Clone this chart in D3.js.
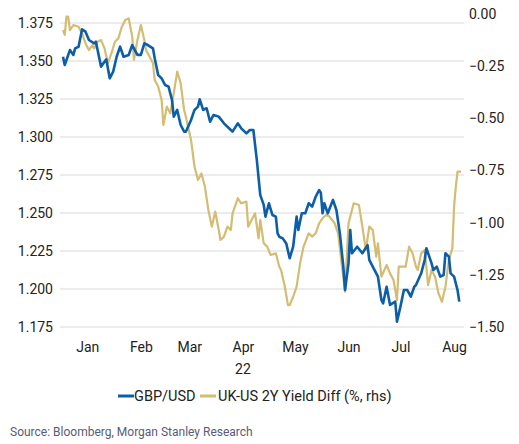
<!DOCTYPE html>
<html><head><meta charset="utf-8">
<script src="https://cdn.jsdelivr.net/npm/d3@7"></script>
<style>body{margin:0;background:#fff}text{font-family:Roboto,"Noto Sans",sans-serif}</style>
</head><body><svg id="c" width="519" height="444"></svg>
<script>
// days since 1 Jan 2022
const gbpDays = [0,1,4,6,7,9,11,13,15,18,19,22,25,27,29,31,33,35,38,40,43,45,47,49,52,53,55,57,59,61,63,64,66,68,70,71,74,76,78,79,81,83,85,87,90,93,97,98,101,103,106,108,110,112,114,116,117,119,121,123,124,125,127,129,131,133,135,136,138,140,142,144,146,148,149,150,151,153,156,158,160,162,163,165,166,167,170,173,176,177,179,182,184,185,187,189,192,193,195,197,199,201,203,204,207,209,210,213,214,216,218,220,221,223,224,226,228,229];
const gbpUsd = [1.3528,1.3474,1.3572,1.3540,1.3583,1.3594,1.3708,1.3693,1.3638,1.3616,1.3627,1.3463,1.3511,1.3386,1.3430,1.3528,1.3594,1.3528,1.3540,1.3605,1.3540,1.3540,1.3616,1.3605,1.3583,1.3518,1.3408,1.3386,1.3342,1.3331,1.3243,1.3134,1.3178,1.3079,1.3035,1.3035,1.3112,1.3178,1.3200,1.3248,1.3178,1.3189,1.3101,1.3145,1.3134,1.3090,1.3046,1.3035,1.3090,1.3057,1.3024,1.3046,1.3046,1.2849,1.2618,1.2553,1.2476,1.2564,1.2487,1.2476,1.2366,1.2344,1.2333,1.2300,1.2202,1.2278,1.2476,1.2388,1.2498,1.2498,1.2564,1.2542,1.2607,1.2651,1.2634,1.2498,1.2564,1.2498,1.2586,1.2520,1.2366,1.2147,1.1993,1.2169,1.2388,1.2235,1.2278,1.2235,1.2289,1.2191,1.2147,1.2081,1.1928,1.1906,1.2015,1.1895,1.1917,1.1785,1.1884,1.1993,1.1993,1.1950,1.2015,1.2026,1.2103,1.2191,1.2268,1.2169,1.2125,1.2147,1.2081,1.2092,1.2235,1.2213,1.2103,1.2081,1.1993,1.1917];
const diffDays = [0,1,2,3,4,6,9,11,13,15,17,18,20,22,24,26,28,30,32,34,36,38,40,41,43,45,47,48,50,52,53,55,57,58,60,62,64,66,68,70,71,74,76,78,80,82,84,86,88,90,91,93,95,97,98,101,103,106,107,109,111,113,114,116,118,120,123,125,126,128,130,131,133,135,137,139,142,144,146,148,150,152,154,157,159,161,163,165,168,171,173,175,177,179,181,182,184,187,189,191,193,194,196,198,200,202,204,205,207,209,211,213,215,217,219,221,223,225,226,227,228,230];
const yieldDiff = [-0.077,-0.100,-0.013,-0.013,-0.077,-0.053,-0.061,-0.093,-0.141,-0.173,-0.149,-0.165,-0.133,-0.125,-0.165,-0.236,-0.188,-0.133,-0.117,-0.061,-0.029,-0.021,-0.109,-0.220,-0.125,-0.053,-0.125,-0.173,-0.204,-0.236,-0.316,-0.348,-0.412,-0.532,-0.444,-0.476,-0.380,-0.276,-0.332,-0.460,-0.492,-0.604,-0.732,-0.796,-0.764,-0.827,-0.939,-1.019,-0.947,-1.035,-1.083,-1.067,-1.019,-1.035,-0.955,-0.883,-0.907,-0.899,-1.019,-0.987,-0.955,-1.075,-0.987,-1.099,-1.115,-1.155,-1.147,-1.211,-1.227,-1.299,-1.395,-1.395,-1.355,-1.307,-1.195,-1.115,-1.051,-1.067,-1.051,-1.003,-0.979,-0.963,-0.971,-1.003,-1.051,-1.195,-1.331,-1.003,-0.907,-0.915,-1.019,-1.131,-1.019,-1.035,-1.163,-1.099,-1.259,-1.203,-1.243,-1.275,-1.371,-1.211,-1.211,-1.211,-1.115,-1.147,-1.211,-1.227,-1.147,-1.131,-1.299,-1.227,-1.259,-1.339,-1.379,-1.307,-1.179,-1.123,-0.923,-0.827,-0.755,-0.755];
const leftTicks = [1.175,1.2,1.225,1.25,1.275,1.3,1.325,1.35,1.375];
const rightTicks = [0,-0.25,-0.5,-0.75,-1,-1.25,-1.5];
const monthLabels = ["Jan","Feb","Mar","Apr","May","Jun","Jul","Aug"];

const svg = d3.select("#c");
const start = new Date(2022,0,1);
const toDate = d => d3.timeDay.offset(start, d);
const x = d3.scaleTime().domain([start, toDate(230)]).range([63, 461]);
const yL = d3.scaleLinear().domain([1.175, 1.375]).range([327, 23]);
const yR = d3.scaleLinear().domain([-1.5, 0]).range([327, 14]);

svg.append("g").selectAll("line").data(leftTicks).join("line")
  .attr("x1", 60).attr("x2", 464).attr("y1", yL).attr("y2", yL)
  .attr("stroke", "#d9d9d9").attr("stroke-width", 1);

const lg = svg.append("g").attr("transform", "translate(56,0)")
  .call(d3.axisLeft(yL).tickValues(leftTicks).tickSize(0).tickFormat(d3.format(".3f")));
const rg = svg.append("g").attr("transform", "translate(466,0)")
  .call(d3.axisRight(yR).tickValues(rightTicks).tickSize(0).tickFormat(d3.format(".2f")));
const xg = svg.append("g").attr("transform", "translate(0,339)")
  .call(d3.axisBottom(x).tickValues(monthLabels.map((m, i) => new Date(2022, i, 15))).tickSize(0)
    .tickFormat((d, i) => monthLabels[i]));
[lg, rg, xg].forEach(g => {
  g.select(".domain").remove();
  g.selectAll("text").attr("font-size", 14).attr("fill", "#222").attr("font-family", "Roboto");
});
svg.append("text").attr("x", x(new Date(2022,3,15))).attr("y", 374).attr("text-anchor", "middle")
  .attr("font-size", 14).attr("fill", "#222").text("22");

const line = (yS) => d3.line().x(d => x(toDate(d[0]))).y(d => yS(d[1])).curve(d3.curveLinear);
svg.append("path").datum(d3.zip(diffDays, yieldDiff)).attr("d", line(yR))
  .attr("fill", "none").attr("stroke", "#d4bc72").attr("stroke-width", 2.2).attr("stroke-linejoin", "round");
svg.append("path").datum(d3.zip(gbpDays, gbpUsd)).attr("d", line(yL))
  .attr("fill", "none").attr("stroke", "#0c5ea8").attr("stroke-width", 2.6).attr("stroke-linejoin", "round");

const legend = svg.append("g").attr("transform", "translate(118,396)");
legend.append("line").attr("x1", 0).attr("x2", 16).attr("stroke", "#0c5ea8").attr("stroke-width", 3);
legend.append("text").attr("x", 16).attr("y", 5).attr("font-size", 14.5).attr("fill", "#222").text("GBP/USD");
legend.append("line").attr("x1", 82).attr("x2", 98).attr("stroke", "#d4bc72").attr("stroke-width", 3);
legend.append("text").attr("x", 100).attr("y", 5).attr("font-size", 14.5).attr("fill", "#222").text("UK-US 2Y Yield Diff (%, rhs)");

svg.append("text").attr("x", 10).attr("y", 436).attr("font-size", 12).attr("fill", "#5a5a7a")
  .text("Source: Bloomberg, Morgan Stanley Research");
</script></body></html>
